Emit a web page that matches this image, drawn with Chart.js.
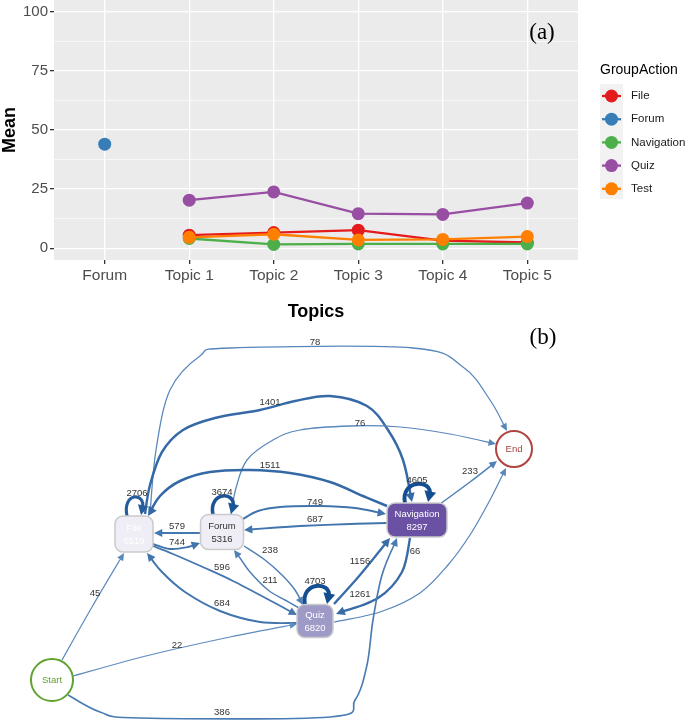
<!DOCTYPE html>
<html>
<head>
<meta charset="utf-8">
<script src="https://cdn.jsdelivr.net/npm/chart.js@4.4.1/dist/chart.umd.min.js"></script>
<style>
  body { margin: 0; background: #fff; width: 685px; height: 727px; overflow: hidden; position: relative; }
  #top { position: absolute; left: 0; top: 0; }
  #net { position: absolute; left: 0; top: 320px; }
</style>
</head>
<body>
<canvas id="top" width="685" height="324"></canvas>
<canvas id="net" width="685" height="407"></canvas>
<script>
// ---- (a) mean per topic ----
var categories = ['Forum', 'Topic 1', 'Topic 2', 'Topic 3', 'Topic 4', 'Topic 5'];
var groups = ['File', 'Forum', 'Navigation', 'Quiz', 'Test'];
var fileMean       = [null, 5.5, 6.6, 7.6, 3.2, 2.4];
var forumMean      = [44.0, null, null, null, null, null];
var navigationMean = [null, 4.1, 1.6, 1.8, 1.8, 1.8];
var quizMean       = [null, 20.3, 23.8, 14.6, 14.3, 19.1];
var testMean       = [null, 4.6, 5.9, 3.5, 3.7, 4.9];
var yTicks = [0, 25, 50, 75, 100];
var yMinor = [12.5, 37.5, 62.5, 87.5];

// ---- (b) process map ----
var nodeNames  = ['Start', 'File', 'Forum', 'Navigation', 'Quiz', 'End'];
var nodeCounts = [null, 5519, 5316, 8297, 6820, null];
var edgeFrom   = ['File', 'File', 'Forum', 'Navigation', 'File', 'Forum', 'Navigation', 'Quiz',
                  'Forum', 'Navigation', 'Forum', 'File', 'File', 'Quiz', 'Forum', 'Quiz',
                  'Quiz', 'Navigation', 'Quiz', 'Navigation', 'Start', 'Start', 'Start'];
var edgeTo     = ['End', 'Navigation', 'End', 'File', 'File', 'Forum', 'Navigation', 'Quiz',
                  'Navigation', 'Forum', 'File', 'Forum', 'Quiz', 'File', 'Quiz', 'Forum',
                  'Navigation', 'Quiz', 'End', 'End', 'File', 'Quiz', 'Navigation'];
var edgeCounts = [78, 1401, 76, 1511, 2706, 3674, 4605, 4703,
                  749, 687, 579, 744, 596, 684, 238, 211,
                  1156, 1261, 66, 233, 45, 22, 386];

// graph layout (layout units)
var nodeLayout = {
  Start: [52, 680], File: [134, 534], Forum: [222, 532],
  Navigation: [417, 520], Quiz: [315, 621], End: [514, 449]
};
var edgeRoutes = [
  [[150,514],[156,450],[170,390],[200,356],[230,348],[413,348],[463,367],[490,400],[507,431]],
  [[145,514],[150,485],[162,452],[183,430],[215,418],[260,410],[295,401],[330,396],[367,406],[388,430],[403,460],[412,502]],
  [[231,514],[236,488],[247,460],[273,440],[300,430],[350,426],[400,427],[450,434],[496,444]],
  [[387,506],[363,496],[330,482],[290,473],[250,470],[210,472],[180,481],[160,496],[148,516]],
  [[127,516],[122,492],[146,492],[141,515]],
  [[213,515],[208,491],[237,491],[231,514]],
  [[405,503],[400,479],[433,479],[428,502]],
  [[305,605],[300,581],[332,581],[327,604]],
  [[243,519],[258,511],[280,507],[320,506],[355,508],[386,514]],
  [[387,523],[350,524],[300,526],[270,528],[244,530]],
  [[200,533],[154,533]],
  [[153,544],[170,549],[188,547],[200,543]],
  [[153,546],[173,554],[205,568],[233,581],[273,602],[297,615]],
  [[297,623],[260,622],[220,611],[185,592],[162,572],[147,553]],
  [[244,546],[265,560],[282,575],[295,590],[303,605]],
  [[299,608],[285,600],[268,590],[250,572],[240,558],[234,550]],
  [[334,604],[360,575],[390,538]],
  [[410,538],[402,572],[378,598],[336,614]],
  [[334,622],[380,612],[420,593],[448,565],[470,535],[490,500],[506,468]],
  [[440,504],[470,482],[497,461]],
  [[62,660],[92,607],[124,553]],
  [[73,676],[150,655],[230,637],[297,624]],
  [[68,695],[100,712],[140,718],[330,717],[355,700],[367,665],[373,620],[382,575],[397,538]]
];
var edgeLabelAt = [[315,342],[270,402],[360,423],[270,465],[137,493],[222,492],[417,480],[315,581],
                   [315,502],[315,519],[177,526],[177,542],[222,567],[222,603],[270,550],[270,580],
                   [360,561],[360,594],[415,551],[470,471],[95,593],[177,645],[222,712]];

var FONT = '"Liberation Sans", Arial, sans-serif';
Chart.defaults.font.family = FONT;

var seriesValues = [fileMean, forumMean, navigationMean, quizMean, testMean];
var seriesColors = ['#E41A1C', '#377EB8', '#4DAF4A', '#984EA3', '#FF7F00'];

var panelPlugin = {
  id: 'panel',
  beforeDraw: function (chart) {
    var a = chart.chartArea, ctx = chart.ctx;
    ctx.save();
    ctx.fillStyle = '#EBEBEB';
    ctx.fillRect(a.left, a.top, a.right - a.left, a.bottom - a.top);
    ctx.restore();
  },
  afterDraw: function (chart) {
    var ctx = chart.ctx;
    ctx.save();
    // panel tag
    ctx.fillStyle = '#000';
    ctx.font = '23px "Liberation Serif", "Times New Roman", serif';
    ctx.textAlign = 'center';
    ctx.textBaseline = 'middle';
    ctx.fillText('(a)', 542, 33);
    // legend
    ctx.textAlign = 'left';
    ctx.font = '14px ' + FONT;
    ctx.fillText('GroupAction', 600, 70);
    ctx.fillStyle = '#F2F2F2';
    ctx.fillRect(600, 84, 23, 23 * chart.data.datasets.length);
    ctx.font = '11.5px ' + FONT;
    chart.data.datasets.forEach(function (ds, i) {
      var cy = 96 + i * 23.2;
      ctx.strokeStyle = ds.borderColor;
      ctx.lineWidth = 2.3;
      ctx.beginPath(); ctx.moveTo(602, cy); ctx.lineTo(621, cy); ctx.stroke();
      ctx.fillStyle = ds.borderColor;
      ctx.beginPath(); ctx.arc(611.5, cy, 6.5, 0, Math.PI * 2); ctx.fill();
      ctx.fillStyle = '#1a1a1a';
      ctx.fillText(ds.label, 631, cy);
    });
    ctx.restore();
  }
};

new Chart(document.getElementById('top'), {
  type: 'line',
  data: {
    datasets: groups.map(function (g, i) {
      return {
        label: g,
        data: seriesValues[i].map(function (v, j) { return { x: j, y: v }; }),
        borderColor: seriesColors[i],
        backgroundColor: seriesColors[i],
        pointBackgroundColor: seriesColors[i],
        borderWidth: 2.3,
        pointRadius: 6.5,
        pointHoverRadius: 6.5,
        pointBorderWidth: 0,
        spanGaps: false,
        order: groups.length - i
      };
    })
  },
  options: {
    responsive: false,
    animation: false,
    events: [],
    layout: { autoPadding: false, padding: { left: 0, top: 0, right: 107, bottom: 0 } },
    plugins: { legend: { display: false }, tooltip: { enabled: false } },
    scales: {
      x: {
        type: 'linear', min: -0.6, max: 5.6,
        afterBuildTicks: function (s) { s.ticks = categories.map(function (c, i) { return { value: i }; }); },
        afterFit: function (s) { s.height = 64; s.paddingLeft = 0; s.paddingRight = 0; },
        ticks: {
          callback: function (v) { return categories[v]; },
          color: '#4D4D4D', font: { size: 15.5 }, padding: 2, autoSkip: false, maxRotation: 0
        },
        grid: { color: '#FFFFFF', lineWidth: 1.3, tickLength: 4, tickColor: '#333333' },
        border: { display: false },
        title: { display: true, text: 'Topics', color: '#000', font: { size: 18, weight: 'bold' }, padding: { top: 0, bottom: 1 } }
      },
      y: {
        type: 'linear', min: -5, max: 105,
        afterBuildTicks: function (s) {
          s.ticks = yTicks.concat(yMinor).sort(function (a, b) { return a - b; }).map(function (v) { return { value: v }; });
        },
        afterFit: function (s) { s.width = 54; s.paddingTop = 0; s.paddingBottom = 0; },
        ticks: {
          callback: function (v) { return yTicks.indexOf(v) >= 0 ? String(v) : ''; },
          color: '#4D4D4D', font: { size: 15 }, padding: 2
        },
        grid: {
          color: '#FFFFFF',
          lineWidth: function (c) { return yTicks.indexOf(c.tick.value) >= 0 ? 1.3 : 0.6; },
          tickLength: 4,
          tickColor: function (c) { return yTicks.indexOf(c.tick.value) >= 0 ? '#333333' : 'rgba(0,0,0,0)'; }
        },
        border: { display: false },
        title: { display: true, text: 'Mean', color: '#000', font: { size: 18, weight: 'bold' }, padding: { top: -1, bottom: 0 } }
      }
    }
  },
  plugins: [panelPlugin]
});

// ---- process map drawing ----
var maxCount = Math.max.apply(null, edgeCounts);
var nodeStyle = {
  Start: { r: 21, fill: '#FFFFFF', stroke: '#62A22F', text: '#62A22F' },
  End: { r: 18, fill: '#FFFFFF', stroke: '#B0433F', text: '#A8423E' },
  File: { w: 38, h: 36, fill: '#EFEDF5', stroke: '#CACACA', text: '#FFFFFF' },
  Forum: { w: 43, h: 35, fill: '#EFEDF5', stroke: '#CACACA', text: '#333333' },
  Navigation: { w: 60, h: 34, fill: '#6A51A3', stroke: '#CACACA', text: '#FFFFFF' },
  Quiz: { w: 36, h: 33, fill: '#9E9AC8', stroke: '#CACACA', text: '#FFFFFF' }
};

function spline(p) {
  var segs = [];
  for (var i = 0; i < p.length - 1; i++) {
    var p0 = p[Math.max(i - 1, 0)], p1 = p[i], p2 = p[i + 1], p3 = p[Math.min(i + 2, p.length - 1)];
    segs.push([p1,
      [p1[0] + (p2[0] - p0[0]) / 6, p1[1] + (p2[1] - p0[1]) / 6],
      [p2[0] - (p3[0] - p1[0]) / 6, p2[1] - (p3[1] - p1[1]) / 6],
      p2]);
  }
  return segs;
}

function drawEdge(ctx, pts, loop, w, color) {
  var segs = loop ? [[pts[0], pts[1], pts[2], pts[3]]] : spline(pts);
  var last = segs[segs.length - 1].slice();
  var tip = last[3];
  var from = Math.hypot(tip[0] - last[2][0], tip[1] - last[2][1]) > 0.5 ? last[2] : last[0];
  var dx = tip[0] - from[0], dy = tip[1] - from[1], L = Math.hypot(dx, dy) || 1;
  dx /= L; dy /= L;
  var alen = 6 + w * 1.2, ahw = 2.4 + w * 0.9;
  last[3] = [tip[0] - dx * alen * 0.7, tip[1] - dy * alen * 0.7];
  segs[segs.length - 1] = last;
  ctx.strokeStyle = color;
  ctx.fillStyle = color;
  ctx.lineWidth = w;
  ctx.beginPath();
  ctx.moveTo(segs[0][0][0], segs[0][0][1]);
  segs.forEach(function (s) { ctx.bezierCurveTo(s[1][0], s[1][1], s[2][0], s[2][1], s[3][0], s[3][1]); });
  ctx.stroke();
  ctx.beginPath();
  ctx.moveTo(tip[0], tip[1]);
  ctx.lineTo(tip[0] - dx * alen - dy * ahw, tip[1] - dy * alen + dx * ahw);
  ctx.lineTo(tip[0] - dx * alen + dy * ahw, tip[1] - dy * alen - dx * ahw);
  ctx.closePath();
  ctx.fill();
}

var processMapPlugin = {
  id: 'processMap',
  afterDatasetsDraw: function (chart) {
    var ctx = chart.ctx, xs = chart.scales.x, ys = chart.scales.y;
    function P(p) { return [xs.getPixelForValue(p[0]), ys.getPixelForValue(p[1])]; }
    ctx.save();
    ctx.lineCap = 'butt';
    // edges
    edgeCounts.forEach(function (c, i) {
      var t = Math.pow(c / maxCount, 0.45);
      var col = 'rgb(' + Math.round(100 - 80 * t) + ',' + Math.round(145 - 67 * t) + ',' + Math.round(195 - 50 * t) + ')';
      var w = 1 + 3 * Math.pow(c / maxCount, 0.6);
      drawEdge(ctx, edgeRoutes[i].map(P), edgeFrom[i] === edgeTo[i], w, col);
    });
    // edge labels
    ctx.fillStyle = '#333333';
    ctx.font = '9.5px ' + FONT;
    ctx.textAlign = 'center';
    ctx.textBaseline = 'middle';
    edgeCounts.forEach(function (c, i) {
      var q = P(edgeLabelAt[i]);
      ctx.fillText(String(c), q[0], q[1]);
    });
    // nodes
    chart.getDatasetMeta(0).data.forEach(function (pt, i) {
      var name = nodeNames[i], st = nodeStyle[name];
      var x = pt.x, y = pt.y;
      ctx.lineWidth = st.r ? 2 : 1.5;
      ctx.strokeStyle = st.stroke;
      ctx.fillStyle = st.fill;
      ctx.beginPath();
      if (st.r) ctx.arc(x, y, st.r, 0, Math.PI * 2);
      else ctx.roundRect(x - st.w / 2, y - st.h / 2, st.w, st.h, 8);
      ctx.fill();
      ctx.stroke();
      ctx.fillStyle = st.text;
      ctx.font = '9.5px ' + FONT;
      if (nodeCounts[i] === null) {
        ctx.fillText(name, x, y);
      } else {
        ctx.fillText(name, x, y - 6);
        ctx.fillText(String(nodeCounts[i]), x, y + 7);
      }
    });
    // panel tag
    ctx.fillStyle = '#000';
    ctx.font = '23px "Liberation Serif", "Times New Roman", serif';
    var b = P([543, 338]);
    ctx.fillText('(b)', b[0], b[1]);
    ctx.restore();
  }
};

new Chart(document.getElementById('net'), {
  type: 'scatter',
  data: {
    datasets: [{
      data: nodeNames.map(function (n) { return { x: nodeLayout[n][0], y: nodeLayout[n][1] }; }),
      pointRadius: 0, pointHoverRadius: 0
    }]
  },
  options: {
    responsive: false,
    animation: false,
    events: [],
    layout: { autoPadding: false, padding: 0 },
    plugins: { legend: { display: false }, tooltip: { enabled: false } },
    scales: {
      x: { type: 'linear', display: false, min: 0, max: 685 },
      y: { type: 'linear', display: false, min: 320, max: 727, reverse: true }
    }
  },
  plugins: [processMapPlugin]
});
</script>
</body>
</html>
